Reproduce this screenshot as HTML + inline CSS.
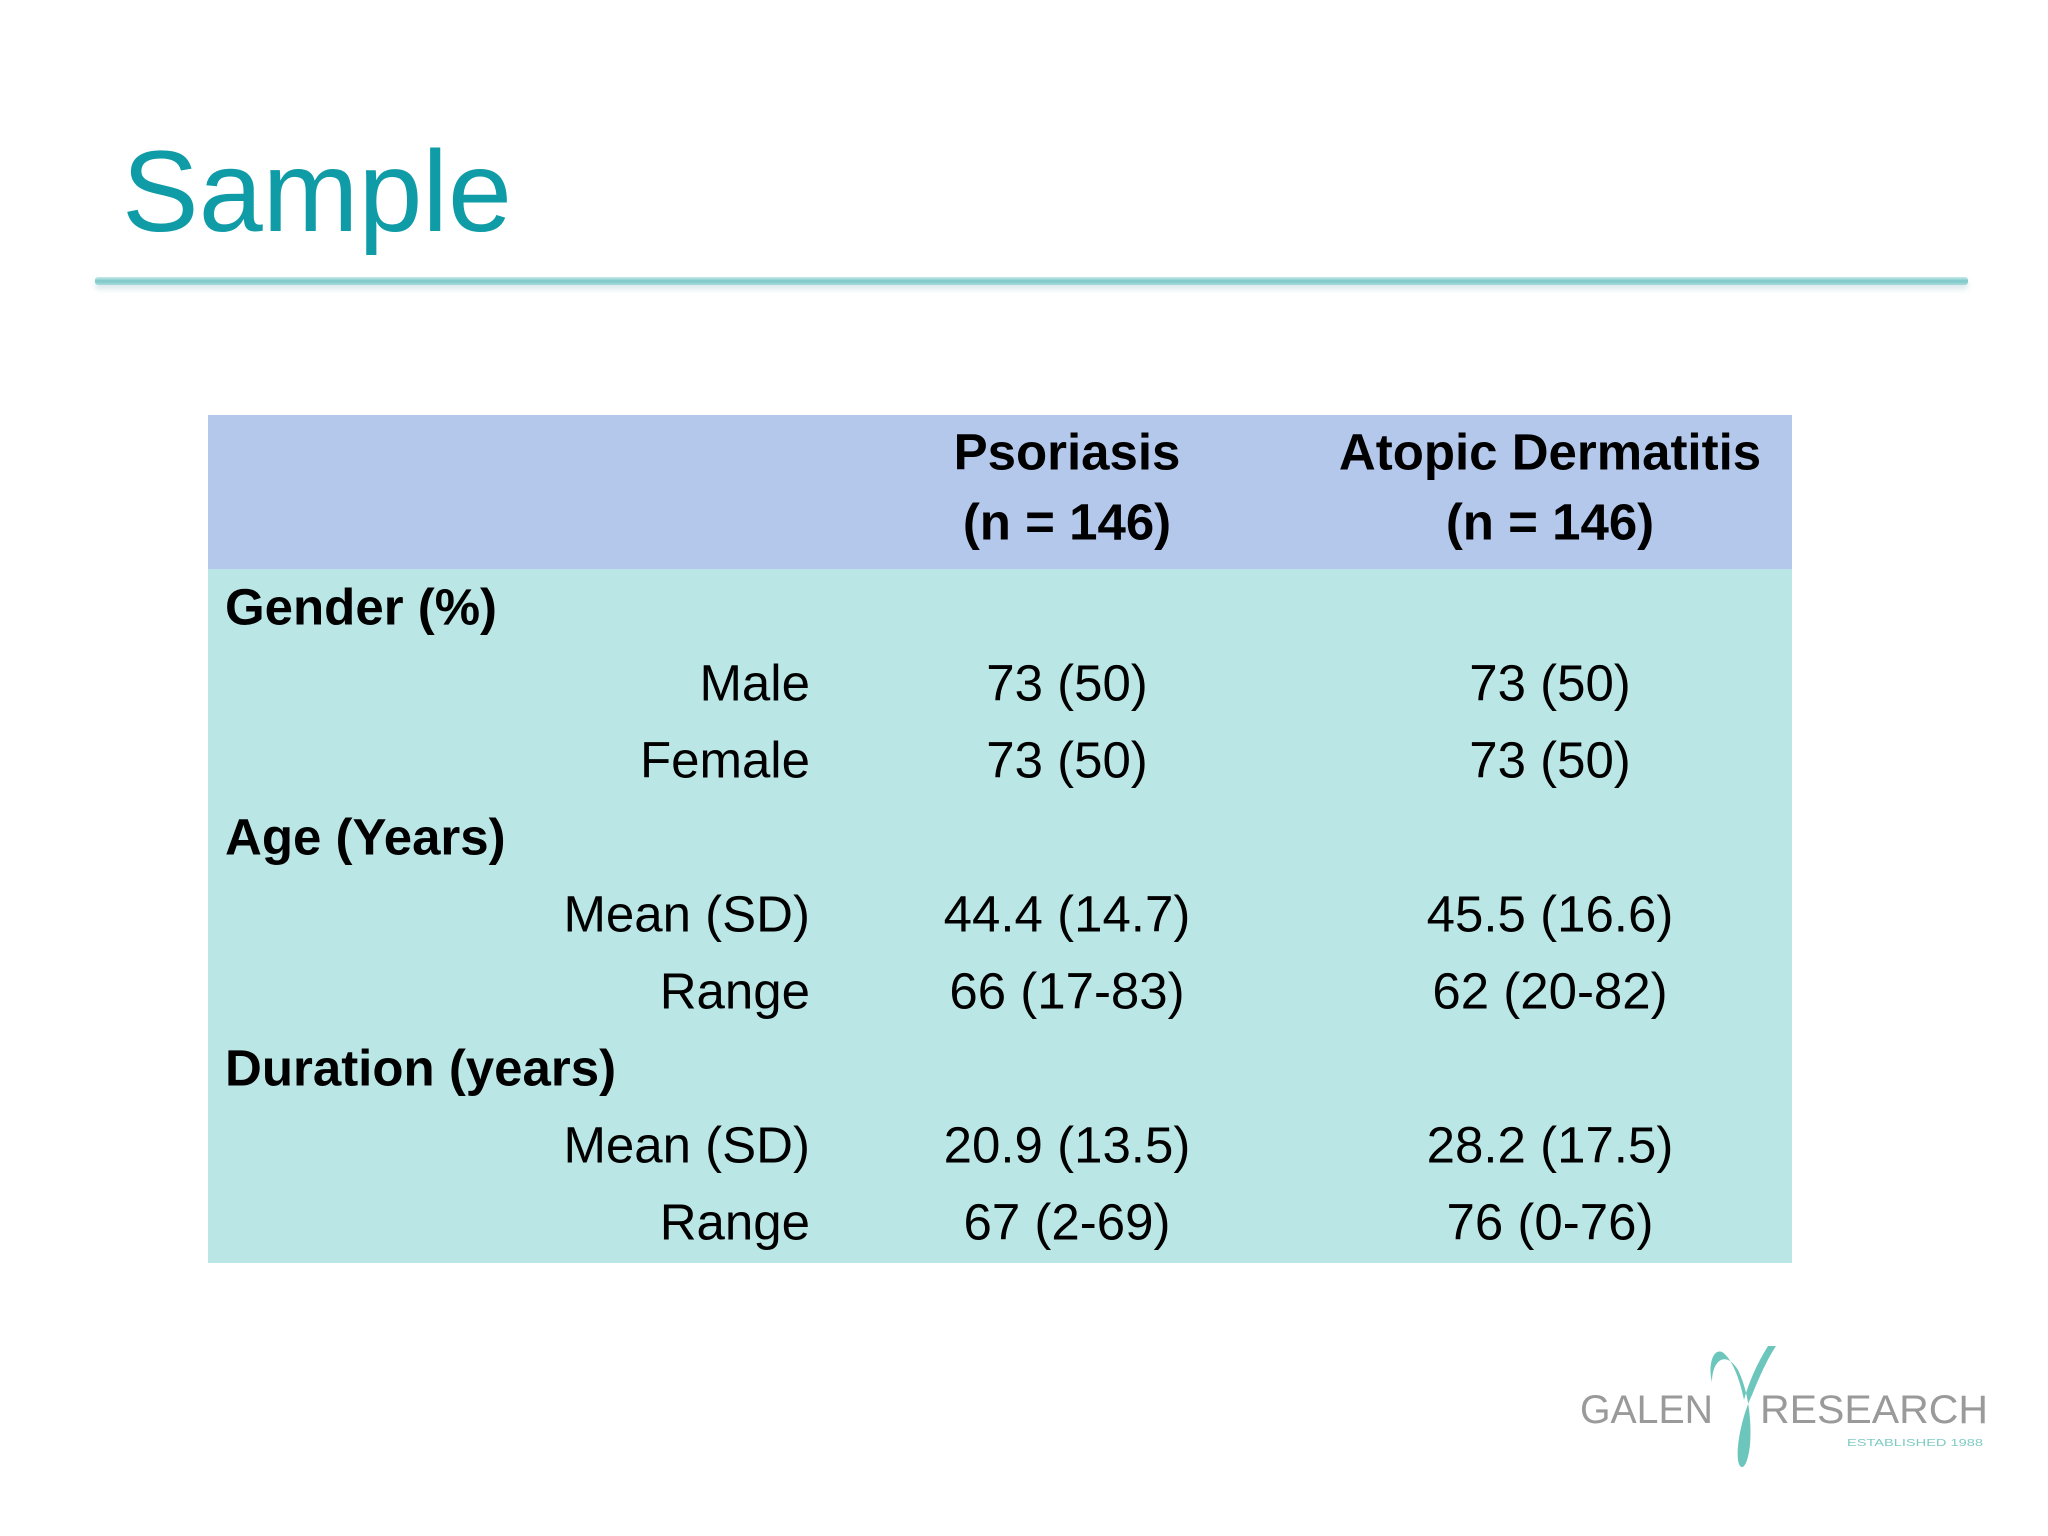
<!DOCTYPE html>
<html><head><meta charset="utf-8">
<style>
html,body{margin:0;padding:0;background:#fff;}
body{width:2048px;height:1536px;position:relative;overflow:hidden;font-family:"Liberation Sans",Arial,sans-serif;}
#title{position:absolute;left:122px;top:135px;font-size:115px;color:#0f9ca6;line-height:1;}
#rule{position:absolute;left:95px;top:277px;width:1873px;height:8px;background:linear-gradient(to bottom,#c9ecec,#7cc8c8 50%,#a9dada);border-radius:3px;box-shadow:0 4px 6px rgba(150,190,200,0.35);}
#tbl{position:absolute;left:208px;top:415px;width:1584px;height:848px;background:#bbe6e6;}
#hdr{position:absolute;left:0;top:0;width:1584px;height:154px;background:#b4c8ec;}
.t{position:absolute;font-size:51px;color:#000;white-space:nowrap;line-height:1;transform:translateY(-50%);}
.b{font-weight:bold;}
.c{transform:translate(-50%,-50%);}
.r{transform:translate(-100%,-50%);}
</style></head>
<body>
<div id="title">Sample</div>
<div id="rule"></div>
<div id="tbl">
 <div id="hdr"></div>
 <div class="t b c" style="left:859px;top:37px">Psoriasis</div>
 <div class="t b c" style="left:859px;top:107px">(n = 146)</div>
 <div class="t b c" style="left:1342px;top:37px">Atopic Dermatitis</div>
 <div class="t b c" style="left:1342px;top:107px">(n = 146)</div>

 <div class="t b" style="left:17px;top:192px">Gender (%)</div>
 <div class="t r" style="left:602px;top:268px">Male</div>
 <div class="t c" style="left:859px;top:268px">73 (50)</div>
 <div class="t c" style="left:1342px;top:268px">73 (50)</div>
 <div class="t r" style="left:602px;top:345px">Female</div>
 <div class="t c" style="left:859px;top:345px">73 (50)</div>
 <div class="t c" style="left:1342px;top:345px">73 (50)</div>

 <div class="t b" style="left:17px;top:422px">Age (Years)</div>
 <div class="t r" style="left:602px;top:499px">Mean (SD)</div>
 <div class="t c" style="left:859px;top:499px">44.4 (14.7)</div>
 <div class="t c" style="left:1342px;top:499px">45.5 (16.6)</div>
 <div class="t r" style="left:602px;top:576px">Range</div>
 <div class="t c" style="left:859px;top:576px">66 (17-83)</div>
 <div class="t c" style="left:1342px;top:576px">62 (20-82)</div>

 <div class="t b" style="left:17px;top:653px">Duration (years)</div>
 <div class="t r" style="left:602px;top:730px">Mean (SD)</div>
 <div class="t c" style="left:859px;top:730px">20.9 (13.5)</div>
 <div class="t c" style="left:1342px;top:730px">28.2 (17.5)</div>
 <div class="t r" style="left:602px;top:807px">Range</div>
 <div class="t c" style="left:859px;top:807px">67 (2-69)</div>
 <div class="t c" style="left:1342px;top:807px">76 (0-76)</div>
</div>

<svg style="position:absolute;left:0;top:0" width="2048" height="1536">
 <path d="M1712 1382 C1712 1360 1726 1350 1738 1370 C1748 1390 1752 1420 1750 1445 C1748 1462 1744 1470 1740 1466 C1734 1458 1740 1420 1752 1395 C1760 1375 1768 1358 1776 1346 L1768 1346 C1756 1365 1748 1385 1744 1400 C1740 1380 1732 1358 1722 1352 C1712 1348 1708 1368 1712 1382 Z" fill="#6cc6bc"/>
 <text x="1580" y="1423" font-family="Liberation Sans, sans-serif" font-size="40" fill="#9a9a9a" textLength="133" lengthAdjust="spacingAndGlyphs">GALEN</text>
 <text x="1760" y="1423" font-family="Liberation Sans, sans-serif" font-size="40" fill="#9a9a9a" textLength="228" lengthAdjust="spacingAndGlyphs">RESEARCH</text>
 <text x="1847" y="1446" font-family="Liberation Sans, sans-serif" font-size="10" fill="#7ecbc3" textLength="136" lengthAdjust="spacingAndGlyphs">ESTABLISHED 1988</text>
</svg>
</body></html>
